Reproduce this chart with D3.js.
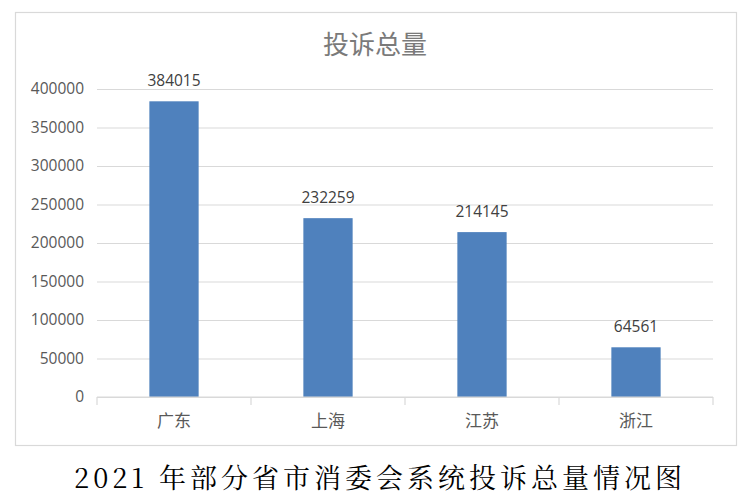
<!DOCTYPE html>
<html><head><meta charset="utf-8">
<script src="https://cdn.jsdelivr.net/npm/d3@7"></script>
<style>
body{margin:0;background:#fff;}
svg{display:block;}
</style></head>
<body>
<svg id="c" width="752" height="504"></svg>
<script>
const categories = ["广东","上海","江苏","浙江"];
const values = [384015, 232259, 214145, 64561];
const yTicks = [0,50000,100000,150000,200000,250000,300000,350000,400000];
const chartTitle = "投诉总量";
const caption = "2021 年部分省市消委会系统投诉总量情况图";

const svg = d3.select("#c");
const m = {left:97, right:713, top:89, bottom:397};
const x = d3.scaleBand().domain(categories).range([m.left, m.right]).paddingInner(0.68).paddingOuter(0.34);
const y = d3.scaleLinear().domain([0,400000]).range([m.bottom, m.top]);
const sans = "'Open Sans','Noto Sans CJK SC',sans-serif";

svg.append("rect").attr("x",15.5).attr("y",12.5).attr("width",721).attr("height",433)
  .attr("fill","#fff").attr("stroke","#d9d9d9").attr("stroke-width",1.2);

svg.append("text").attr("x",375).attr("y",54).attr("text-anchor","middle")
  .attr("font-family","'Noto Sans CJK SC',sans-serif").attr("font-size",26).attr("fill","#7a7a7a")
  .text(chartTitle);

// grid
const yAxis = d3.axisLeft(y).tickValues(yTicks).tickSize(-(m.right-m.left)).tickFormat(d3.format("d"));
const gy = svg.append("g").attr("transform",`translate(${m.left},0)`).call(yAxis);
gy.select(".domain").remove();
gy.selectAll(".tick line").attr("stroke","#d9d9d9").attr("stroke-width",1.2);
gy.selectAll(".tick text").attr("x",-13).attr("fill","#595959").attr("font-size",15.5).attr("font-family",sans);

// bars
svg.selectAll("rect.bar").data(values).join("rect").attr("class","bar")
  .attr("x",(d,i)=>x(categories[i])).attr("width",x.bandwidth())
  .attr("y",d=>y(d)).attr("height",d=>y(0)-y(d)).attr("fill","#4f81bd");

svg.selectAll("text.val").data(values).join("text").attr("class","val")
  .attr("x",(d,i)=>x(categories[i])+x.bandwidth()/2).attr("y",d=>y(d)-15)
  .attr("text-anchor","middle").attr("font-size",15.5).attr("font-family",sans).attr("fill","#404040")
  .text(d=>d);

// x axis
const xb = d3.scaleLinear().domain([0,4]).range([m.left,m.right]);
const gx = svg.append("g").attr("transform",`translate(0,${m.bottom})`);
gx.append("line").attr("x1",m.left).attr("x2",m.right).attr("stroke","#d9d9d9").attr("stroke-width",1.2);
gx.selectAll("line.tk").data(d3.range(5)).join("line").attr("class","tk")
  .attr("x1",d=>xb(d)).attr("x2",d=>xb(d)).attr("y1",0).attr("y2",8).attr("stroke","#d9d9d9").attr("stroke-width",1.2);
gx.selectAll("text").data(categories).join("text")
  .attr("x",d=>x(d)+x.bandwidth()/2).attr("y",30).attr("text-anchor","middle")
  .attr("font-size",17).attr("font-family","'Noto Sans CJK SC',sans-serif").attr("fill","#595959").text(d=>d);

svg.append("text").attr("x",380).attr("y",488).attr("text-anchor","middle")
  .attr("font-family","'Noto Serif CJK SC','Liberation Serif','Noto Sans CJK SC',serif").attr("font-size",27)
  .attr("letter-spacing",4).attr("fill","#000").text(caption);
</script>
</body></html>
